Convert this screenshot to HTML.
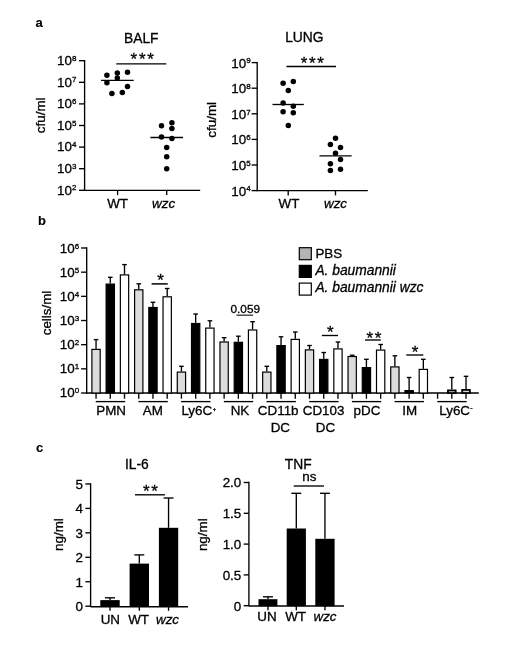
<!DOCTYPE html>
<html><head><meta charset="utf-8"><title>Figure</title>
<style>
html,body{margin:0;padding:0;background:#fff;}
svg{display:block;}
svg text{font-family:"Liberation Sans",Arial,Helvetica,sans-serif;fill:#000;stroke:#000;stroke-width:0.3px;}
</style></head><body>
<svg width="520" height="645" viewBox="0 0 520 645">
<rect x="0" y="0" width="520" height="645" fill="#fff"/>
<text x="35.60" y="26.80" font-size="13" text-anchor="start" font-weight="bold" style="stroke-width:0.1px">a</text>
<text x="38.00" y="224.80" font-size="13" text-anchor="start" font-weight="bold" style="stroke-width:0.1px">b</text>
<text x="36.10" y="451.80" font-size="13" text-anchor="start" font-weight="bold" style="stroke-width:0.1px">c</text>
<line x1="84.60" y1="60.03" x2="84.60" y2="190.97" stroke="#000" stroke-width="1.35"/>
<line x1="84.60" y1="190.30" x2="200.20" y2="190.30" stroke="#000" stroke-width="1.35"/>
<line x1="79.00" y1="60.70" x2="84.60" y2="60.70" stroke="#000" stroke-width="1.35"/>
<text x="76.40" y="64.90" font-size="13.4" text-anchor="end">10<tspan font-size="8" dy="-4.2">8</tspan></text>
<line x1="79.00" y1="82.30" x2="84.60" y2="82.30" stroke="#000" stroke-width="1.35"/>
<text x="76.40" y="86.50" font-size="13.4" text-anchor="end">10<tspan font-size="8" dy="-4.2">7</tspan></text>
<line x1="79.00" y1="103.90" x2="84.60" y2="103.90" stroke="#000" stroke-width="1.35"/>
<text x="76.40" y="108.10" font-size="13.4" text-anchor="end">10<tspan font-size="8" dy="-4.2">6</tspan></text>
<line x1="79.00" y1="125.50" x2="84.60" y2="125.50" stroke="#000" stroke-width="1.35"/>
<text x="76.40" y="129.70" font-size="13.4" text-anchor="end">10<tspan font-size="8" dy="-4.2">5</tspan></text>
<line x1="79.00" y1="147.10" x2="84.60" y2="147.10" stroke="#000" stroke-width="1.35"/>
<text x="76.40" y="151.30" font-size="13.4" text-anchor="end">10<tspan font-size="8" dy="-4.2">4</tspan></text>
<line x1="79.00" y1="168.70" x2="84.60" y2="168.70" stroke="#000" stroke-width="1.35"/>
<text x="76.40" y="172.90" font-size="13.4" text-anchor="end">10<tspan font-size="8" dy="-4.2">3</tspan></text>
<line x1="79.00" y1="190.30" x2="84.60" y2="190.30" stroke="#000" stroke-width="1.35"/>
<text x="76.40" y="194.50" font-size="13.4" text-anchor="end">10<tspan font-size="8" dy="-4.2">2</tspan></text>
<line x1="117.60" y1="190.30" x2="117.60" y2="195.10" stroke="#000" stroke-width="1.35"/>
<line x1="166.70" y1="190.30" x2="166.70" y2="195.10" stroke="#000" stroke-width="1.35"/>
<text x="117.60" y="207.70" font-size="13.4" text-anchor="middle">WT</text>
<text x="163.60" y="207.70" font-size="13.4" text-anchor="middle" font-style="italic">wzc</text>
<text x="141.30" y="42.50" font-size="13.8" text-anchor="middle">BALF</text>
<text transform="translate(44.60,115.30) rotate(-90)" font-size="13.4" text-anchor="middle">cfu/ml</text>
<circle cx="106.90" cy="75.20" r="2.75"/>
<circle cx="117.30" cy="73.10" r="2.75"/>
<circle cx="127.50" cy="72.30" r="2.75"/>
<circle cx="106.90" cy="82.70" r="2.75"/>
<circle cx="117.30" cy="78.10" r="2.75"/>
<circle cx="127.50" cy="86.50" r="2.75"/>
<circle cx="111.90" cy="93.60" r="2.75"/>
<circle cx="122.30" cy="92.40" r="2.75"/>
<line x1="101.00" y1="80.40" x2="133.70" y2="80.40" stroke="#000" stroke-width="1.35"/>
<circle cx="161.50" cy="125.80" r="2.75"/>
<circle cx="171.90" cy="122.70" r="2.75"/>
<circle cx="171.90" cy="128.50" r="2.75"/>
<circle cx="161.50" cy="137.10" r="2.75"/>
<circle cx="171.90" cy="138.50" r="2.75"/>
<circle cx="166.70" cy="147.50" r="2.75"/>
<circle cx="166.70" cy="156.70" r="2.75"/>
<circle cx="166.70" cy="168.70" r="2.75"/>
<line x1="150.40" y1="137.50" x2="183.10" y2="137.50" stroke="#000" stroke-width="1.35"/>
<line x1="116.30" y1="63.80" x2="166.30" y2="63.80" stroke="#000" stroke-width="1.35"/>
<text x="130.60" y="65.40" font-size="17" text-anchor="start" letter-spacing="1.7">***</text>
<line x1="257.20" y1="61.93" x2="257.20" y2="191.27" stroke="#000" stroke-width="1.35"/>
<line x1="257.20" y1="190.60" x2="367.80" y2="190.60" stroke="#000" stroke-width="1.35"/>
<line x1="251.60" y1="62.60" x2="257.20" y2="62.60" stroke="#000" stroke-width="1.35"/>
<text x="250.70" y="67.50" font-size="13.4" text-anchor="end">10<tspan font-size="8" dy="-4.2">9</tspan></text>
<line x1="251.60" y1="88.20" x2="257.20" y2="88.20" stroke="#000" stroke-width="1.35"/>
<text x="250.70" y="93.10" font-size="13.4" text-anchor="end">10<tspan font-size="8" dy="-4.2">8</tspan></text>
<line x1="251.60" y1="113.80" x2="257.20" y2="113.80" stroke="#000" stroke-width="1.35"/>
<text x="250.70" y="118.70" font-size="13.4" text-anchor="end">10<tspan font-size="8" dy="-4.2">7</tspan></text>
<line x1="251.60" y1="139.40" x2="257.20" y2="139.40" stroke="#000" stroke-width="1.35"/>
<text x="250.70" y="144.30" font-size="13.4" text-anchor="end">10<tspan font-size="8" dy="-4.2">6</tspan></text>
<line x1="251.60" y1="165.00" x2="257.20" y2="165.00" stroke="#000" stroke-width="1.35"/>
<text x="250.70" y="169.90" font-size="13.4" text-anchor="end">10<tspan font-size="8" dy="-4.2">5</tspan></text>
<line x1="251.60" y1="190.60" x2="257.20" y2="190.60" stroke="#000" stroke-width="1.35"/>
<text x="250.70" y="195.50" font-size="13.4" text-anchor="end">10<tspan font-size="8" dy="-4.2">4</tspan></text>
<line x1="288.20" y1="190.60" x2="288.20" y2="195.40" stroke="#000" stroke-width="1.35"/>
<line x1="335.50" y1="190.60" x2="335.50" y2="195.40" stroke="#000" stroke-width="1.35"/>
<text x="289.00" y="207.80" font-size="13.4" text-anchor="middle">WT</text>
<text x="335.50" y="207.80" font-size="13.4" text-anchor="middle" font-style="italic">wzc</text>
<text x="304.30" y="42.40" font-size="13.8" text-anchor="middle">LUNG</text>
<text transform="translate(215.60,119.80) rotate(-90)" font-size="13.4" text-anchor="middle">cfu/ml</text>
<circle cx="283.10" cy="83.30" r="2.75"/>
<circle cx="293.30" cy="81.50" r="2.75"/>
<circle cx="288.30" cy="90.60" r="2.75"/>
<circle cx="283.10" cy="103.10" r="2.75"/>
<circle cx="293.30" cy="106.20" r="2.75"/>
<circle cx="283.10" cy="111.70" r="2.75"/>
<circle cx="293.30" cy="112.70" r="2.75"/>
<circle cx="288.30" cy="125.60" r="2.75"/>
<line x1="272.50" y1="104.50" x2="303.80" y2="104.50" stroke="#000" stroke-width="1.35"/>
<circle cx="335.50" cy="138.20" r="2.75"/>
<circle cx="330.40" cy="144.60" r="2.75"/>
<circle cx="340.50" cy="147.40" r="2.75"/>
<circle cx="335.50" cy="153.20" r="2.75"/>
<circle cx="340.50" cy="159.40" r="2.75"/>
<circle cx="330.40" cy="163.80" r="2.75"/>
<circle cx="330.40" cy="170.50" r="2.75"/>
<circle cx="340.50" cy="169.30" r="2.75"/>
<line x1="319.50" y1="155.90" x2="351.60" y2="155.90" stroke="#000" stroke-width="1.35"/>
<line x1="286.50" y1="66.50" x2="336.00" y2="66.50" stroke="#000" stroke-width="1.35"/>
<text x="300.70" y="69.00" font-size="17" text-anchor="start" letter-spacing="1.7">***</text>
<line x1="86.70" y1="247.33" x2="86.70" y2="393.69" stroke="#000" stroke-width="1.35"/>
<line x1="86.70" y1="393.02" x2="478.80" y2="393.02" stroke="#000" stroke-width="1.35"/>
<line x1="81.10" y1="248.00" x2="86.70" y2="248.00" stroke="#000" stroke-width="1.35"/>
<text x="79.20" y="252.90" font-size="13.4" text-anchor="end">10<tspan font-size="8" dy="-4.2">6</tspan></text>
<line x1="81.10" y1="272.17" x2="86.70" y2="272.17" stroke="#000" stroke-width="1.35"/>
<text x="79.20" y="276.92" font-size="13.4" text-anchor="end">10<tspan font-size="8" dy="-4.2">5</tspan></text>
<line x1="81.10" y1="296.34" x2="86.70" y2="296.34" stroke="#000" stroke-width="1.35"/>
<text x="79.20" y="300.94" font-size="13.4" text-anchor="end">10<tspan font-size="8" dy="-4.2">4</tspan></text>
<line x1="81.10" y1="320.51" x2="86.70" y2="320.51" stroke="#000" stroke-width="1.35"/>
<text x="79.20" y="324.96" font-size="13.4" text-anchor="end">10<tspan font-size="8" dy="-4.2">3</tspan></text>
<line x1="81.10" y1="344.68" x2="86.70" y2="344.68" stroke="#000" stroke-width="1.35"/>
<text x="79.20" y="348.98" font-size="13.4" text-anchor="end">10<tspan font-size="8" dy="-4.2">2</tspan></text>
<line x1="81.10" y1="368.85" x2="86.70" y2="368.85" stroke="#000" stroke-width="1.35"/>
<text x="79.20" y="373.00" font-size="13.4" text-anchor="end">10<tspan font-size="8" dy="-4.2">1</tspan></text>
<line x1="81.10" y1="393.02" x2="86.70" y2="393.02" stroke="#000" stroke-width="1.35"/>
<text x="79.20" y="397.02" font-size="13.4" text-anchor="end">10<tspan font-size="8" dy="-4.2">0</tspan></text>
<text transform="translate(51.30,313.00) rotate(-90)" font-size="13.4" text-anchor="middle">cells/ml</text>
<line x1="96.05" y1="393.02" x2="96.05" y2="398.72" stroke="#000" stroke-width="1.35"/>
<line x1="96.05" y1="348.80" x2="96.05" y2="339.60" stroke="#000" stroke-width="1.35"/>
<line x1="93.75" y1="339.60" x2="98.35" y2="339.60" stroke="#000" stroke-width="1.35"/>
<rect x="91.90" y="349.40" width="8.30" height="43.62" fill="#dcdcdc" stroke="#000" stroke-width="1.2"/>
<line x1="110.28" y1="393.02" x2="110.28" y2="398.72" stroke="#000" stroke-width="1.35"/>
<line x1="110.28" y1="283.50" x2="110.28" y2="277.30" stroke="#000" stroke-width="1.35"/>
<line x1="107.98" y1="277.30" x2="112.58" y2="277.30" stroke="#000" stroke-width="1.35"/>
<rect x="106.13" y="284.10" width="8.30" height="108.92" fill="#000" stroke="#000" stroke-width="1.2"/>
<line x1="124.51" y1="393.02" x2="124.51" y2="398.72" stroke="#000" stroke-width="1.35"/>
<line x1="124.51" y1="274.30" x2="124.51" y2="264.60" stroke="#000" stroke-width="1.35"/>
<line x1="122.21" y1="264.60" x2="126.81" y2="264.60" stroke="#000" stroke-width="1.35"/>
<rect x="120.36" y="274.90" width="8.30" height="118.12" fill="#fff" stroke="#000" stroke-width="1.2"/>
<line x1="138.74" y1="393.02" x2="138.74" y2="398.72" stroke="#000" stroke-width="1.35"/>
<line x1="138.74" y1="289.20" x2="138.74" y2="283.80" stroke="#000" stroke-width="1.35"/>
<line x1="136.44" y1="283.80" x2="141.04" y2="283.80" stroke="#000" stroke-width="1.35"/>
<rect x="134.59" y="289.80" width="8.30" height="103.22" fill="#dcdcdc" stroke="#000" stroke-width="1.2"/>
<line x1="152.97" y1="393.02" x2="152.97" y2="398.72" stroke="#000" stroke-width="1.35"/>
<line x1="152.97" y1="306.90" x2="152.97" y2="302.30" stroke="#000" stroke-width="1.35"/>
<line x1="150.67" y1="302.30" x2="155.27" y2="302.30" stroke="#000" stroke-width="1.35"/>
<rect x="148.82" y="307.50" width="8.30" height="85.52" fill="#000" stroke="#000" stroke-width="1.2"/>
<line x1="167.20" y1="393.02" x2="167.20" y2="398.72" stroke="#000" stroke-width="1.35"/>
<line x1="167.20" y1="296.20" x2="167.20" y2="288.50" stroke="#000" stroke-width="1.35"/>
<line x1="164.90" y1="288.50" x2="169.50" y2="288.50" stroke="#000" stroke-width="1.35"/>
<rect x="163.05" y="296.80" width="8.30" height="96.22" fill="#fff" stroke="#000" stroke-width="1.2"/>
<line x1="181.43" y1="393.02" x2="181.43" y2="398.72" stroke="#000" stroke-width="1.35"/>
<line x1="181.43" y1="371.50" x2="181.43" y2="366.30" stroke="#000" stroke-width="1.35"/>
<line x1="179.13" y1="366.30" x2="183.73" y2="366.30" stroke="#000" stroke-width="1.35"/>
<rect x="177.28" y="372.10" width="8.30" height="20.92" fill="#dcdcdc" stroke="#000" stroke-width="1.2"/>
<line x1="195.66" y1="393.02" x2="195.66" y2="398.72" stroke="#000" stroke-width="1.35"/>
<line x1="195.66" y1="322.90" x2="195.66" y2="314.00" stroke="#000" stroke-width="1.35"/>
<line x1="193.36" y1="314.00" x2="197.96" y2="314.00" stroke="#000" stroke-width="1.35"/>
<rect x="191.51" y="323.50" width="8.30" height="69.52" fill="#000" stroke="#000" stroke-width="1.2"/>
<line x1="209.89" y1="393.02" x2="209.89" y2="398.72" stroke="#000" stroke-width="1.35"/>
<line x1="209.89" y1="327.50" x2="209.89" y2="320.80" stroke="#000" stroke-width="1.35"/>
<line x1="207.59" y1="320.80" x2="212.19" y2="320.80" stroke="#000" stroke-width="1.35"/>
<rect x="205.74" y="328.10" width="8.30" height="64.92" fill="#fff" stroke="#000" stroke-width="1.2"/>
<line x1="224.12" y1="393.02" x2="224.12" y2="398.72" stroke="#000" stroke-width="1.35"/>
<line x1="224.12" y1="341.40" x2="224.12" y2="337.70" stroke="#000" stroke-width="1.35"/>
<line x1="221.82" y1="337.70" x2="226.42" y2="337.70" stroke="#000" stroke-width="1.35"/>
<rect x="219.97" y="342.00" width="8.30" height="51.02" fill="#dcdcdc" stroke="#000" stroke-width="1.2"/>
<line x1="238.35" y1="393.02" x2="238.35" y2="398.72" stroke="#000" stroke-width="1.35"/>
<line x1="238.35" y1="341.70" x2="238.35" y2="336.20" stroke="#000" stroke-width="1.35"/>
<line x1="236.05" y1="336.20" x2="240.65" y2="336.20" stroke="#000" stroke-width="1.35"/>
<rect x="234.20" y="342.30" width="8.30" height="50.72" fill="#000" stroke="#000" stroke-width="1.2"/>
<line x1="252.58" y1="393.02" x2="252.58" y2="398.72" stroke="#000" stroke-width="1.35"/>
<line x1="252.58" y1="329.40" x2="252.58" y2="321.70" stroke="#000" stroke-width="1.35"/>
<line x1="250.28" y1="321.70" x2="254.88" y2="321.70" stroke="#000" stroke-width="1.35"/>
<rect x="248.43" y="330.00" width="8.30" height="63.02" fill="#fff" stroke="#000" stroke-width="1.2"/>
<line x1="266.81" y1="393.02" x2="266.81" y2="398.72" stroke="#000" stroke-width="1.35"/>
<line x1="266.81" y1="371.50" x2="266.81" y2="366.30" stroke="#000" stroke-width="1.35"/>
<line x1="264.51" y1="366.30" x2="269.11" y2="366.30" stroke="#000" stroke-width="1.35"/>
<rect x="262.66" y="372.10" width="8.30" height="20.92" fill="#dcdcdc" stroke="#000" stroke-width="1.2"/>
<line x1="281.04" y1="393.02" x2="281.04" y2="398.72" stroke="#000" stroke-width="1.35"/>
<line x1="281.04" y1="345.00" x2="281.04" y2="336.80" stroke="#000" stroke-width="1.35"/>
<line x1="278.74" y1="336.80" x2="283.34" y2="336.80" stroke="#000" stroke-width="1.35"/>
<rect x="276.89" y="345.60" width="8.30" height="47.42" fill="#000" stroke="#000" stroke-width="1.2"/>
<line x1="295.27" y1="393.02" x2="295.27" y2="398.72" stroke="#000" stroke-width="1.35"/>
<line x1="295.27" y1="338.80" x2="295.27" y2="332.00" stroke="#000" stroke-width="1.35"/>
<line x1="292.97" y1="332.00" x2="297.57" y2="332.00" stroke="#000" stroke-width="1.35"/>
<rect x="291.12" y="339.40" width="8.30" height="53.62" fill="#fff" stroke="#000" stroke-width="1.2"/>
<line x1="309.50" y1="393.02" x2="309.50" y2="398.72" stroke="#000" stroke-width="1.35"/>
<line x1="309.50" y1="349.30" x2="309.50" y2="345.50" stroke="#000" stroke-width="1.35"/>
<line x1="307.20" y1="345.50" x2="311.80" y2="345.50" stroke="#000" stroke-width="1.35"/>
<rect x="305.35" y="349.90" width="8.30" height="43.12" fill="#dcdcdc" stroke="#000" stroke-width="1.2"/>
<line x1="323.73" y1="393.02" x2="323.73" y2="398.72" stroke="#000" stroke-width="1.35"/>
<line x1="323.73" y1="358.80" x2="323.73" y2="352.50" stroke="#000" stroke-width="1.35"/>
<line x1="321.43" y1="352.50" x2="326.03" y2="352.50" stroke="#000" stroke-width="1.35"/>
<rect x="319.58" y="359.40" width="8.30" height="33.62" fill="#000" stroke="#000" stroke-width="1.2"/>
<line x1="337.96" y1="393.02" x2="337.96" y2="398.72" stroke="#000" stroke-width="1.35"/>
<line x1="337.96" y1="348.30" x2="337.96" y2="342.00" stroke="#000" stroke-width="1.35"/>
<line x1="335.66" y1="342.00" x2="340.26" y2="342.00" stroke="#000" stroke-width="1.35"/>
<rect x="333.81" y="348.90" width="8.30" height="44.12" fill="#fff" stroke="#000" stroke-width="1.2"/>
<line x1="352.19" y1="393.02" x2="352.19" y2="398.72" stroke="#000" stroke-width="1.35"/>
<line x1="352.19" y1="355.90" x2="352.19" y2="355.20" stroke="#000" stroke-width="1.35"/>
<line x1="349.89" y1="355.20" x2="354.49" y2="355.20" stroke="#000" stroke-width="1.35"/>
<rect x="348.04" y="356.50" width="8.30" height="36.52" fill="#dcdcdc" stroke="#000" stroke-width="1.2"/>
<line x1="366.42" y1="393.02" x2="366.42" y2="398.72" stroke="#000" stroke-width="1.35"/>
<line x1="366.42" y1="367.00" x2="366.42" y2="359.30" stroke="#000" stroke-width="1.35"/>
<line x1="364.12" y1="359.30" x2="368.72" y2="359.30" stroke="#000" stroke-width="1.35"/>
<rect x="362.27" y="367.60" width="8.30" height="25.42" fill="#000" stroke="#000" stroke-width="1.2"/>
<line x1="380.65" y1="393.02" x2="380.65" y2="398.72" stroke="#000" stroke-width="1.35"/>
<line x1="380.65" y1="349.50" x2="380.65" y2="344.50" stroke="#000" stroke-width="1.35"/>
<line x1="378.35" y1="344.50" x2="382.95" y2="344.50" stroke="#000" stroke-width="1.35"/>
<rect x="376.50" y="350.10" width="8.30" height="42.92" fill="#fff" stroke="#000" stroke-width="1.2"/>
<line x1="394.88" y1="393.02" x2="394.88" y2="398.72" stroke="#000" stroke-width="1.35"/>
<line x1="394.88" y1="366.30" x2="394.88" y2="355.80" stroke="#000" stroke-width="1.35"/>
<line x1="392.58" y1="355.80" x2="397.18" y2="355.80" stroke="#000" stroke-width="1.35"/>
<rect x="390.73" y="366.90" width="8.30" height="26.12" fill="#dcdcdc" stroke="#000" stroke-width="1.2"/>
<line x1="409.11" y1="393.02" x2="409.11" y2="398.72" stroke="#000" stroke-width="1.35"/>
<line x1="409.11" y1="390.00" x2="409.11" y2="377.50" stroke="#000" stroke-width="1.35"/>
<line x1="406.81" y1="377.50" x2="411.41" y2="377.50" stroke="#000" stroke-width="1.35"/>
<rect x="404.96" y="390.60" width="8.30" height="2.42" fill="#000" stroke="#000" stroke-width="1.2"/>
<line x1="423.34" y1="393.02" x2="423.34" y2="398.72" stroke="#000" stroke-width="1.35"/>
<line x1="423.34" y1="368.80" x2="423.34" y2="359.30" stroke="#000" stroke-width="1.35"/>
<line x1="421.04" y1="359.30" x2="425.64" y2="359.30" stroke="#000" stroke-width="1.35"/>
<rect x="419.19" y="369.40" width="8.30" height="23.62" fill="#fff" stroke="#000" stroke-width="1.2"/>
<line x1="437.57" y1="393.02" x2="437.57" y2="398.72" stroke="#000" stroke-width="1.35"/>
<line x1="451.80" y1="393.02" x2="451.80" y2="398.72" stroke="#000" stroke-width="1.35"/>
<line x1="451.80" y1="389.50" x2="451.80" y2="377.50" stroke="#000" stroke-width="1.35"/>
<line x1="449.50" y1="377.50" x2="454.10" y2="377.50" stroke="#000" stroke-width="1.35"/>
<rect x="447.95" y="390.40" width="7.70" height="2.62" fill="#dcdcdc" stroke="#000" stroke-width="1.8"/>
<line x1="466.03" y1="393.02" x2="466.03" y2="398.72" stroke="#000" stroke-width="1.35"/>
<line x1="466.03" y1="389.00" x2="466.03" y2="376.30" stroke="#000" stroke-width="1.35"/>
<line x1="463.73" y1="376.30" x2="468.33" y2="376.30" stroke="#000" stroke-width="1.35"/>
<rect x="462.18" y="389.90" width="7.70" height="3.12" fill="#dcdcdc" stroke="#000" stroke-width="1.8"/>
<line x1="95.75" y1="401.60" x2="125.11" y2="401.60" stroke="#000" stroke-width="1.35"/>
<text x="111.10" y="414.80" font-size="13.4" text-anchor="middle">PMN</text>
<line x1="138.44" y1="401.60" x2="167.80" y2="401.60" stroke="#000" stroke-width="1.35"/>
<text x="152.80" y="414.80" font-size="13.4" text-anchor="middle">AM</text>
<line x1="181.13" y1="401.60" x2="210.49" y2="401.60" stroke="#000" stroke-width="1.35"/>
<text x="198.80" y="414.80" font-size="13.4" text-anchor="middle">Ly6C<tspan font-size="6" dy="-4" dx="0.5">+</tspan></text>
<line x1="223.82" y1="401.60" x2="253.18" y2="401.60" stroke="#000" stroke-width="1.35"/>
<text x="240.00" y="414.80" font-size="13.4" text-anchor="middle">NK</text>
<line x1="266.51" y1="401.60" x2="295.87" y2="401.60" stroke="#000" stroke-width="1.35"/>
<text x="278.20" y="414.80" font-size="13.4" text-anchor="middle">CD11b</text>
<line x1="309.20" y1="401.60" x2="338.56" y2="401.60" stroke="#000" stroke-width="1.35"/>
<text x="323.60" y="414.80" font-size="13.4" text-anchor="middle">CD103</text>
<line x1="351.89" y1="401.60" x2="381.25" y2="401.60" stroke="#000" stroke-width="1.35"/>
<text x="367.00" y="414.80" font-size="13.4" text-anchor="middle">pDC</text>
<line x1="394.58" y1="401.60" x2="423.94" y2="401.60" stroke="#000" stroke-width="1.35"/>
<text x="409.80" y="414.80" font-size="13.4" text-anchor="middle">IM</text>
<line x1="437.27" y1="401.60" x2="466.63" y2="401.60" stroke="#000" stroke-width="1.35"/>
<text x="456.00" y="414.80" font-size="13.4" text-anchor="middle">Ly6C<tspan font-size="7" dy="-4.5" dx="0.3">-</tspan></text>
<text x="280.30" y="432.30" font-size="13.4" text-anchor="middle">DC</text>
<text x="325.50" y="432.30" font-size="13.4" text-anchor="middle">DC</text>
<line x1="151.60" y1="283.90" x2="167.70" y2="283.90" stroke="#000" stroke-width="1.5"/>
<text x="160.60" y="286.10" font-size="17" text-anchor="middle">*</text>
<line x1="236.40" y1="315.20" x2="253.10" y2="315.20" stroke="#333" stroke-width="1.3"/>
<text x="245.30" y="313.00" font-size="11.8" text-anchor="middle">0.059</text>
<line x1="321.80" y1="335.50" x2="338.00" y2="335.50" stroke="#000" stroke-width="1.35"/>
<text x="330.20" y="338.00" font-size="17" text-anchor="middle">*</text>
<line x1="365.00" y1="340.00" x2="380.80" y2="340.00" stroke="#000" stroke-width="1.35"/>
<text x="366.40" y="344.00" font-size="17" text-anchor="start" letter-spacing="1.7">**</text>
<line x1="406.30" y1="355.00" x2="423.30" y2="355.00" stroke="#000" stroke-width="1.35"/>
<text x="415.00" y="357.80" font-size="17" text-anchor="middle">*</text>
<rect x="299.30" y="247.70" width="12.00" height="12.00" fill="#b4b4b4" stroke="#000" stroke-width="1.2"/>
<rect x="299.30" y="265.40" width="12.00" height="12.00" fill="#000" stroke="#000" stroke-width="1.2"/>
<rect x="299.30" y="283.10" width="12.00" height="12.00" fill="#fff" stroke="#000" stroke-width="1.2"/>
<text x="315.40" y="257.60" font-size="13.4" text-anchor="start">PBS</text>
<text x="315.40" y="274.90" font-size="13.8" text-anchor="start" font-style="italic">A. baumannii</text>
<text x="315.40" y="292.20" font-size="13.8" text-anchor="start" font-style="italic">A. baumannii wzc</text>
<line x1="90.60" y1="483.28" x2="90.60" y2="606.87" stroke="#000" stroke-width="1.35"/>
<line x1="90.60" y1="606.70" x2="188.00" y2="606.70" stroke="#000" stroke-width="1.35"/>
<line x1="85.40" y1="606.20" x2="90.60" y2="606.20" stroke="#000" stroke-width="1.35"/>
<text x="83.00" y="611.00" font-size="13.4" text-anchor="end">0</text>
<line x1="85.40" y1="581.75" x2="90.60" y2="581.75" stroke="#000" stroke-width="1.35"/>
<text x="83.00" y="586.55" font-size="13.4" text-anchor="end">1</text>
<line x1="85.40" y1="557.30" x2="90.60" y2="557.30" stroke="#000" stroke-width="1.35"/>
<text x="83.00" y="562.10" font-size="13.4" text-anchor="end">2</text>
<line x1="85.40" y1="532.85" x2="90.60" y2="532.85" stroke="#000" stroke-width="1.35"/>
<text x="83.00" y="537.65" font-size="13.4" text-anchor="end">3</text>
<line x1="85.40" y1="508.40" x2="90.60" y2="508.40" stroke="#000" stroke-width="1.35"/>
<text x="83.00" y="513.20" font-size="13.4" text-anchor="end">4</text>
<line x1="85.40" y1="483.95" x2="90.60" y2="483.95" stroke="#000" stroke-width="1.35"/>
<text x="83.00" y="488.75" font-size="13.4" text-anchor="end">5</text>
<text transform="translate(62.90,534.60) rotate(-90)" font-size="13.4" text-anchor="middle">ng/ml</text>
<text x="136.90" y="468.70" font-size="13.8" text-anchor="middle">IL-6</text>
<line x1="110.00" y1="600.10" x2="110.00" y2="597.80" stroke="#000" stroke-width="1.35"/>
<line x1="105.00" y1="597.80" x2="115.00" y2="597.80" stroke="#000" stroke-width="1.35"/>
<line x1="110.00" y1="606.20" x2="110.00" y2="610.80" stroke="#000" stroke-width="1.35"/>
<rect x="100.30" y="600.10" width="19.40" height="6.50" fill="#000"/>
<line x1="139.30" y1="563.60" x2="139.30" y2="554.90" stroke="#000" stroke-width="1.35"/>
<line x1="134.30" y1="554.90" x2="144.30" y2="554.90" stroke="#000" stroke-width="1.35"/>
<line x1="139.30" y1="606.20" x2="139.30" y2="610.80" stroke="#000" stroke-width="1.35"/>
<rect x="129.60" y="563.60" width="19.40" height="43.00" fill="#000"/>
<line x1="168.55" y1="527.80" x2="168.55" y2="498.00" stroke="#000" stroke-width="1.35"/>
<line x1="163.55" y1="498.00" x2="173.55" y2="498.00" stroke="#000" stroke-width="1.35"/>
<line x1="168.55" y1="606.20" x2="168.55" y2="610.80" stroke="#000" stroke-width="1.35"/>
<rect x="158.90" y="527.80" width="19.30" height="78.80" fill="#000"/>
<text x="110.30" y="623.90" font-size="13.4" text-anchor="middle">UN</text>
<text x="138.60" y="623.90" font-size="13.4" text-anchor="middle">WT</text>
<text x="167.50" y="623.90" font-size="13.4" text-anchor="middle" font-style="italic">wzc</text>
<line x1="135.00" y1="494.80" x2="164.90" y2="494.80" stroke="#000" stroke-width="1.35"/>
<text x="142.90" y="497.00" font-size="17" text-anchor="start" letter-spacing="1.7">**</text>
<line x1="248.90" y1="481.83" x2="248.90" y2="606.37" stroke="#000" stroke-width="1.35"/>
<line x1="248.90" y1="606.00" x2="344.00" y2="606.00" stroke="#000" stroke-width="1.35"/>
<line x1="243.70" y1="605.70" x2="248.90" y2="605.70" stroke="#000" stroke-width="1.35"/>
<text x="241.30" y="610.50" font-size="13.4" text-anchor="end">0</text>
<line x1="243.70" y1="574.90" x2="248.90" y2="574.90" stroke="#000" stroke-width="1.35"/>
<text x="241.30" y="579.70" font-size="13.4" text-anchor="end">0.5</text>
<line x1="243.70" y1="544.10" x2="248.90" y2="544.10" stroke="#000" stroke-width="1.35"/>
<text x="241.30" y="548.90" font-size="13.4" text-anchor="end">1.0</text>
<line x1="243.70" y1="513.30" x2="248.90" y2="513.30" stroke="#000" stroke-width="1.35"/>
<text x="241.30" y="518.10" font-size="13.4" text-anchor="end">1.5</text>
<line x1="243.70" y1="482.50" x2="248.90" y2="482.50" stroke="#000" stroke-width="1.35"/>
<text x="241.30" y="487.30" font-size="13.4" text-anchor="end">2.0</text>
<text transform="translate(206.90,534.70) rotate(-90)" font-size="13.4" text-anchor="middle">ng/ml</text>
<text x="298.20" y="469.40" font-size="13.8" text-anchor="middle">TNF</text>
<line x1="267.95" y1="599.20" x2="267.95" y2="596.80" stroke="#000" stroke-width="1.35"/>
<line x1="262.95" y1="596.80" x2="272.95" y2="596.80" stroke="#000" stroke-width="1.35"/>
<line x1="267.95" y1="605.70" x2="267.95" y2="610.30" stroke="#000" stroke-width="1.35"/>
<rect x="258.50" y="599.20" width="18.90" height="6.90" fill="#000"/>
<line x1="296.30" y1="528.50" x2="296.30" y2="493.30" stroke="#000" stroke-width="1.35"/>
<line x1="291.30" y1="493.30" x2="301.30" y2="493.30" stroke="#000" stroke-width="1.35"/>
<line x1="296.30" y1="605.70" x2="296.30" y2="610.30" stroke="#000" stroke-width="1.35"/>
<rect x="286.70" y="528.50" width="19.20" height="77.60" fill="#000"/>
<line x1="324.95" y1="538.80" x2="324.95" y2="493.30" stroke="#000" stroke-width="1.35"/>
<line x1="319.95" y1="493.30" x2="329.95" y2="493.30" stroke="#000" stroke-width="1.35"/>
<line x1="324.95" y1="605.70" x2="324.95" y2="610.30" stroke="#000" stroke-width="1.35"/>
<rect x="315.30" y="538.80" width="19.30" height="67.30" fill="#000"/>
<text x="267.00" y="621.00" font-size="13.4" text-anchor="middle">UN</text>
<text x="295.60" y="621.00" font-size="13.4" text-anchor="middle">WT</text>
<text x="325.00" y="621.00" font-size="13.4" text-anchor="middle" font-style="italic">wzc</text>
<line x1="293.70" y1="486.00" x2="324.00" y2="486.00" stroke="#000" stroke-width="1.35"/>
<text x="309.30" y="481.20" font-size="13.4" text-anchor="middle">ns</text>
</svg>
</body></html>
